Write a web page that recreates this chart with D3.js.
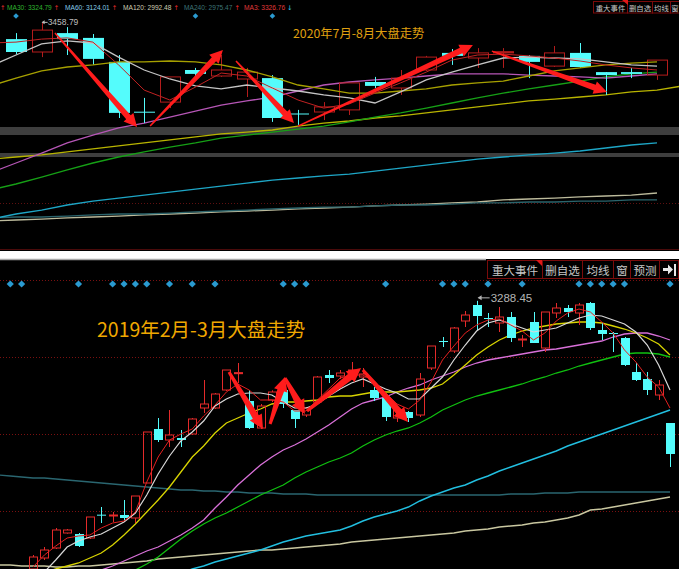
<!DOCTYPE html>
<html><head><meta charset="utf-8">
<script src="https://cdnjs.cloudflare.com/ajax/libs/d3/7.8.5/d3.min.js"></script>
<style>html,body{margin:0;padding:0;background:#fff;}svg{display:block}</style>
</head><body>
<script>
// ---------------- TOP PANEL DATA (2020 Jul-Aug) ----------------
const topOpen  = [3403,3360,3423,3407,3327,3161,3193,3300,3280,3270,3273,3155,3160,3167,3260,3240,3300,3357,3340,3357,3347,3313,3357,3293,3293,3283];
const topHigh  = [3423,3458.79,3443,3420,3350,3207,3277,3307,3350,3307,3283,3167,3193,3257,3277,3300,3347,3370,3373,3373,3350,3380,3390,3293,3307,3333];
const topLow   = [3353,3343,3350,3317,3140,3123,3173,3277,3277,3210,3127,3117,3133,3150,3240,3217,3297,3317,3307,3307,3273,3310,3307,3217,3273,3267];
const topClose = [3360,3433,3403,3337,3157,3158,3277,3287,3300,3293,3140,3152,3177,3257,3247,3273,3343,3347,3357,3361,3327,3357,3310,3283,3287,3333];
// moving averages, first value = day before first candle (index -1)
const topMA3    = [3390,3393,3403,3407,3393,3317,3233,3200,3243,3290,3280,3240,3200,3173,3187,3223,3257,3293,3333,3350,3353,3347,3340,3330,3317,3307,3300];
const topMA5    = [3313,3350,3387,3397,3390,3343,3300,3270,3247,3237,3250,3240,3230,3217,3207,3190,3227,3267,3293,3317,3340,3343,3340,3337,3327,3317,3313];
const topMA10   = [3247,3273,3297,3310,3317,3327,3327,3330,3327,3317,3300,3277,3250,3237,3223,3223,3230,3237,3250,3257,3263,3280,3297,3307,3317,3323,3327];
const topMA20   = [2957,2990,3023,3057,3083,3107,3123,3143,3163,3183,3197,3210,3230,3250,3260,3267,3273,3280,3287,3287,3287,3283,3280,3277,3273,3280,3287];
const topMA30   = [2900,2920,2943,2967,2990,3010,3027,3043,3057,3073,3083,3093,3103,3113,3127,3143,3157,3173,3190,3207,3223,3237,3250,3263,3277,3287,3293];
const topMA40   = [3003,3010,3017,3027,3037,3047,3057,3067,3077,3087,3093,3100,3113,3123,3130,3140,3147,3157,3167,3177,3187,3197,3203,3210,3217,3227,3233,3247];
const topMA60   = [2803,2820,2833,2850,2863,2873,2883,2893,2903,2913,2923,2933,2940,2947,2953,2963,2973,2983,2993,3003,3010,3017,3023,3030,3040,3050,3057];
const topMA120  = [2797,2800,2803,2807,2810,2813,2817,2820,2823,2827,2830,2833,2837,2840,2843,2847,2850,2853,2857,2860,2867,2870,2873,2877,2880,2883,2890];
const topMA240  = [2807,2810,2810,2813,2817,2820,2820,2823,2827,2830,2833,2837,2840,2843,2843,2847,2850,2850,2853,2857,2857,2860,2860,2863,2863,2867,2867];
const topEvents = [0,7,10];
const topArrows = [[1.52,3423,4.72,3110],[5.23,3113,8.07,3367],[8.58,3330,10.84,3123],[11.0,3113,17.82,3383],[18.56,3363,23.05,3227]];
const topTitle = "2020年7月-8月大盘走势";
const topLegend = [["MA30: 3324.79","#2fb52f","↑"],["MA60: 3124.01","#86cbe8","↑"],["MA120: 2992.48","#cfcdb2","↑"],["MA240: 2975.47","#3d7476","↑"],["MA3: 3326.76","#e23a3a","↓"]];

// ---------------- BOTTOM PANEL DATA (2019 Feb-Mar) ----------------
const botOpen  = [2484,2517,2547,2592,2589,2577,2647,2643,2646,2637,2742,2904,2871,2877,2889,2967,2967,3021,3070,2988,2907,2991,3021,2961,2946,2985,3066,3063,3078,3060,3021,2997,2937,2955,2946,3087,3168,3138,3228,3276,3237,3222,3240,3171,3225,3147,3252,3267,3252,3282,3201,3192,3177,3075,3054,3006,2922];
const botHigh  = [2526,2550,2607,2604,2592,2640,2670,2655,2691,2703,2895,2937,2961,2901,2937,3051,3012,3081,3102,3021,2979,3020,3030,2961,2970,3063,3081,3081,3105,3087,3030,3000,2964,2958,3072,3153,3180,3210,3258,3288.45,3252,3270,3255,3186,3255,3255,3282,3276,3282,3285,3222,3195,3180,3102,3075,3051,2922];
const botLow   = [2466,2511,2544,2590,2550,2574,2622,2625,2625,2622,2742,2865,2850,2850,2886,2952,2964,3018,3042,2904,2904,2985,2967,2907,2940,2982,3042,3054,3051,3030,2988,2928,2925,2925,2940,3081,3150,3132,3210,3201,3210,3195,3165,3150,3162,3135,3237,3240,3216,3201,3171,3135,3093,3048,3006,2991,2790];
const botClose = [2520,2541,2601,2601,2553,2640,2645,2646,2637,2703,2895,2871,2886,2871,2934,2979,3009,3081,3073,2907,2973,3015,2979,2934,2967,3060,3057,3072,3081,3069,2997,2940,2961,2937,3054,3153,3165,3207,3246,3243,3234,3240,3177,3174,3162,3255,3267,3255,3276,3207,3189,3189,3096,3051,3021,3036,2829];
const botMA3   = [2490,2526,2553,2577,2583,2586,2607,2622,2628,2655,2745,2820,2871,2889,2904,2943,2976,3015,3039,3021,2991,2991,2985,2958,2958,2991,3024,3057,3066,3066,3048,3012,2979,2964,2991,3045,3111,3153,3192,3216,3231,3234,3216,3198,3171,3192,3228,3252,3264,3255,3225,3192,3141,3105,3060,3030,2967];
const botMA5   = [2451,2475,2511,2550,2568,2580,2589,2607,2625,2652,2706,2769,2823,2868,2895,2928,2973,2994,3009,3012,3012,3006,2985,2967,2967,2979,3003,3024,3042,3054,3039,3024,3012,2994,2994,3027,3060,3111,3156,3198,3222,3231,3219,3207,3195,3201,3207,3222,3237,3246,3243,3231,3219,3195,3156,3096,3021];
const botMA10  = [2466,2475,2484,2493,2502,2517,2532,2556,2586,2619,2655,2691,2730,2775,2820,2853,2892,2922,2937,2952,2964,2979,2985,2985,2988,2991,3000,3003,3003,3009,3015,3015,3015,3018,3021,3027,3039,3066,3096,3126,3150,3171,3186,3198,3207,3213,3219,3222,3225,3225,3222,3213,3204,3192,3177,3159,3126];
const botMA20  = [2391,2403,2418,2433,2448,2466,2481,2493,2508,2523,2538,2550,2568,2586,2607,2631,2667,2700,2736,2766,2796,2820,2841,2856,2874,2895,2916,2940,2964,2982,2991,3000,3015,3027,3036,3051,3063,3075,3090,3102,3111,3117,3123,3129,3135,3141,3144,3150,3156,3162,3168,3180,3189,3192,3192,3183,3171];
const botMA30  = [2292,2313,2334,2355,2376,2397,2418,2439,2460,2481,2499,2520,2547,2574,2598,2619,2637,2652,2670,2688,2706,2721,2736,2757,2775,2790,2805,2817,2832,2853,2871,2886,2898,2907,2922,2940,2961,2976,2991,3003,3012,3021,3030,3039,3051,3060,3072,3081,3093,3102,3111,3120,3129,3132,3132,3129,3120];
const botMA60  = [2334,2346,2355,2367,2376,2388,2397,2409,2418,2430,2439,2451,2460,2472,2484,2493,2505,2514,2523,2532,2541,2553,2565,2574,2583,2589,2595,2601,2613,2628,2640,2649,2658,2670,2688,2703,2715,2727,2736,2751,2763,2778,2790,2802,2814,2826,2838,2853,2865,2877,2889,2901,2913,2925,2937,2949,2961];
// these two start 3 days before the first candle (index -3)
const botMA120 = [2496,2496,2493,2493,2493,2490,2490,2493,2493,2496,2499,2502,2505,2508,2514,2517,2520,2523,2526,2529,2532,2535,2538,2541,2541,2544,2547,2550,2553,2556,2559,2565,2568,2571,2574,2577,2580,2583,2586,2589,2592,2598,2601,2604,2610,2613,2616,2622,2625,2631,2637,2646,2661,2664,2670,2676,2682,2688,2694,2700];
const botMA240 = [2766,2763,2760,2757,2757,2754,2751,2748,2745,2742,2739,2736,2733,2730,2727,2724,2721,2721,2718,2718,2715,2715,2712,2712,2712,2709,2709,2709,2706,2706,2706,2706,2706,2706,2706,2706,2706,2706,2706,2706,2706,2706,2706,2706,2706,2709,2709,2709,2712,2712,2712,2715,2715,2715,2715,2715,2715,2715,2715,2715];
const botEvents = [-2,-1,4,7,8,9,10,12,14,16,22,23,24,31,36,37,38,40,43,48,49,50,51,52,56];
const botArrows = [[17.23,3075,20.22,2904],[20.84,2919,22.15,3060],[22.15,3057,23.9,2949],[24.09,2958,28.84,3087],[29.0,3081,32.97,2925]];
const botTitle = "2019年2月-3月大盘走势";
const topButtons = ["重大事件","删自选","均线","窗"];
const botButtons = ["重大事件","删自选","均线","窗","预测"];

// ---------------- DRAWING ----------------
const W = 679, H = 569;
const svg = d3.select("body").append("svg").attr("width", W).attr("height", H);
const defs = svg.append("defs");
svg.append("rect").attr("width", W).attr("height", H).attr("fill", "#fff");
svg.append("rect").attr("x", 0).attr("y", 0).attr("width", W).attr("height", 251).attr("fill", "#000");
svg.append("rect").attr("x", 0).attr("y", 259).attr("width", W).attr("height", 310).attr("fill", "#000");

defs.append("clipPath").attr("id", "clipT").append("rect").attr("x", 0).attr("y", 13).attr("width", W).attr("height", 236);
defs.append("clipPath").attr("id", "clipB").append("rect").attr("x", 0).attr("y", 280).attr("width", W).attr("height", 289);

const xT = d3.scaleLinear().domain([0, 25]).range([16, 657]);
const yT = d3.scaleLinear().domain([2700, 3500]).range([250, 10]);
const xB = d3.scaleLinear().domain([0, 56]).range([33, 670]);
const yB = d3.scaleLinear().domain([2400, 3300]).range([597, 297]);

function drawLine(g, data, start, x, y, color, width) {
  const line = d3.line().x((d, i) => x(i + start)).y(d => y(d));
  g.append("path").attr("d", line(data)).attr("fill", "none")
    .attr("stroke", color).attr("stroke-width", width || 1);
}
function drawCandles(g, O, Hh, L, C, x, y, w, upCol, downCol) {
  O.forEach((o, i) => {
    const c = C[i], cx = Math.round(x(i)) + 0.5;
    const up = c >= o;
    const top = y(Math.max(o, c)), bot = y(Math.min(o, c));
    const h = Math.max(1, bot - top);
    if (up) {
      g.append("line").attr("x1", cx).attr("x2", cx).attr("y1", y(Hh[i])).attr("y2", top).attr("stroke", upCol);
      g.append("line").attr("x1", cx).attr("x2", cx).attr("y1", top + h).attr("y2", y(L[i])).attr("stroke", upCol);
      g.append("rect").attr("x", cx - w / 2).attr("y", top).attr("width", w).attr("height", h)
        .attr("fill", h < 2.5 ? upCol : "none").attr("stroke", upCol).attr("stroke-width", 1);
    } else {
      g.append("line").attr("x1", cx).attr("x2", cx).attr("y1", y(Hh[i])).attr("y2", y(L[i])).attr("stroke", downCol);
      g.append("rect").attr("x", cx - w / 2 - 0.5).attr("y", top).attr("width", w + 1).attr("height", h).attr("fill", downCol);
    }
  });
}
function arrowPts(x1, y1, x2, y2, w0, w1, Lh, Wh) {
  const dx = x2 - x1, dy = y2 - y1, len = Math.hypot(dx, dy);
  const ux = dx / len, uy = dy / len, nx = -uy, ny = ux;
  const bx = x2 - ux * Lh, by = y2 - uy * Lh;
  return [[x1 + nx * w0 / 2, y1 + ny * w0 / 2], [bx + nx * w1 / 2, by + ny * w1 / 2], [bx + nx * Wh / 2, by + ny * Wh / 2],
    [x2, y2], [bx - nx * Wh / 2, by - ny * Wh / 2], [bx - nx * w1 / 2, by - ny * w1 / 2], [x1 - nx * w0 / 2, y1 - ny * w0 / 2]];
}
function drawArrows(g, arr, x, y, w0, w1, Lh, Wh) {
  arr.forEach(a => {
    const p = arrowPts(x(a[0]), y(a[1]), x(a[2]), y(a[3]), w0, w1, Lh, Wh);
    g.append("polygon").attr("points", p.map(q => q.join(",")).join(" ")).attr("fill", "#ff1c1c");
  });
}
function diamond(g, cx, cy, r, col) {
  g.append("path").attr("d", `M${cx},${cy - r}L${cx + r},${cy}L${cx},${cy + r}L${cx - r},${cy}Z`).attr("fill", col);
}

// ===== TOP PANEL =====
const gT = svg.append("g").attr("clip-path", "url(#clipT)");
gT.append("rect").attr("x", 0).attr("y", 127).attr("width", W).attr("height", 8).attr("fill", "#3e3e3e");
gT.append("rect").attr("x", 0).attr("y", 153).attr("width", W).attr("height", 4).attr("fill", "#3e3e3e");
gT.append("line").attr("x1", 0).attr("x2", W).attr("y1", 203.5).attr("y2", 203.5).attr("stroke", "#5e1010").attr("stroke-dasharray", "1,2");
drawLine(gT, topMA120, -1, xT, yT, "#bdbb9c", 1.3);
drawLine(gT, topMA240, -1, xT, yT, "#2b646c", 1.3);
drawLine(gT, topMA60, -1, xT, yT, "#1ea6c6", 1.4);
drawLine(gT, topMA40, -1, xT, yT, "#b8b400", 1.3);
drawLine(gT, topMA30, -1, xT, yT, "#16a016", 1.3);
drawLine(gT, topMA20, -1, xT, yT, "#b656b6", 1.3);
drawCandles(gT, topOpen, topHigh, topLow, topClose, xT, yT, 20, "#b41c1c", "#54fcfc");
drawLine(gT, topMA10, -1, xT, yT, "#a6a000", 1.3);
drawLine(gT, topMA5, -1, xT, yT, "#c4c4c4", 1.3);
drawLine(gT, topMA3, -1, xT, yT, "#c02222", 1);
drawArrows(gT, topArrows, xT, yT, 1.5, 6, 13, 13);
svg.append("line").attr("x1", 0).attr("x2", W).attr("y1", 249.5).attr("y2", 249.5).attr("stroke", "#4a0a0a");

// high label
{
  const hx = xT(1), hy = yT(3458.79);
  svg.append("line").attr("x1", hx + 1).attr("x2", hx + 6).attr("y1", hy).attr("y2", hy).attr("stroke", "#bdbdbd");
  svg.append("path").attr("d", `M${hx},${hy}l3,-2l0,4z`).attr("fill", "#bdbdbd");
  svg.append("text").attr("x", hx + 6).attr("y", hy + 3).text("3458.79")
    .attr("fill", "#bdbdbd").attr("font-family", "Liberation Sans, Arial").attr("font-size", 8.5);
}
topEvents.forEach(i => diamond(svg, xT(i), 16, 2.8, "#2a9ad0"));

// header legend (laid out left to right from measured widths)
{
  svg.append("text").attr("x", 0).attr("y", 9.5).text("↑").attr("fill", "#e02a2a").attr("font-size", 6.5).attr("font-family", "DejaVu Sans");
  const pos = [7, 65, 123, 184, 244];
  topLegend.forEach((d, k) => {
    const t = svg.append("text").attr("x", pos[k]).attr("y", 9.5).text(d[0]).attr("fill", d[1])
      .attr("font-family", "Liberation Sans, Arial").attr("font-size", 6.6);
    const wdt = t.node().getComputedTextLength();
    svg.append("text").attr("x", pos[k] + wdt + 2).attr("y", 9.5).text(d[2])
      .attr("fill", d[2] === "↓" ? "#3ad8f0" : "#e02a2a").attr("font-family", "DejaVu Sans").attr("font-size", 6.5);
  });
}
// top buttons
{
  const xs = [593, 627, 652, 670, 679];
  topButtons.forEach((t, k) => {
    svg.append("rect").attr("x", xs[k] + 0.5).attr("y", 1.5).attr("width", xs[k + 1] - xs[k] + (k === 3 ? 4 : 0)).attr("height", 11.5)
      .attr("fill", "#000").attr("stroke", "#7a0b0b");
    svg.append("text").attr("x", (xs[k] + xs[k + 1]) / 2 + 0.5).attr("y", 10.5).attr("text-anchor", "middle")
      .text(t).attr("fill", "#c4c4c4").attr("font-family", "Noto Sans CJK SC").attr("font-size", 7.4);
  });
  svg.append("path").attr("d", "M622,0L628,0L628,5Z").attr("fill", "#e01818");
}
svg.append("text").attr("x", 293).attr("y", 38).text(topTitle).attr("fill", "#e0a010")
  .attr("font-family", "Noto Sans CJK SC").attr("font-size", 12.3);

// ===== BOTTOM PANEL =====
svg.append("line").attr("x1", 0).attr("x2", 486).attr("y1", 259.5).attr("y2", 259.5).attr("stroke", "#a8a8a8").attr("stroke-width", 1.5);
const gB = svg.append("g").attr("clip-path", "url(#clipB)");
[280.5, 357.5, 434.5, 511.5].forEach(yy => gB.append("line").attr("x1", 0).attr("x2", W).attr("y1", yy).attr("y2", yy)
  .attr("stroke", "#7a1010").attr("stroke-dasharray", "1,2"));
drawLine(gB, botMA120, -3, xB, yB, "#c9c7a0", 1.4);
drawLine(gB, botMA240, -3, xB, yB, "#2a6670", 1.4);
drawLine(gB, botMA60, 0, xB, yB, "#22bfe0", 1.4);
drawLine(gB, botMA30, 0, xB, yB, "#10c010", 1.3);
drawLine(gB, botMA20, 0, xB, yB, "#d870d8", 1.3);
drawLine(gB, botMA10, 0, xB, yB, "#d8d400", 1.3);
drawCandles(gB, botOpen, botHigh, botLow, botClose, xB, yB, 8, "#e42a2a", "#54fcfc");
drawLine(gB, botMA5, 0, xB, yB, "#d8d8d8", 1.2);
drawLine(gB, botMA3, 0, xB, yB, "#e42020", 1);
drawArrows(gB, botArrows, xB, yB, 3, 7, 14, 14);
botEvents.forEach(i => diamond(svg, xB(i), 284, 3.6, "#2a9ad0"));
{
  const hx = xB(39), hy = yB(3288.45) - 3;
  svg.append("line").attr("x1", hx + 2).attr("x2", hx + 13).attr("y1", hy).attr("y2", hy).attr("stroke", "#b4b4b4");
  svg.append("path").attr("d", `M${hx + 1},${hy}l4,-2.5l0,5z`).attr("fill", "#b4b4b4");
  svg.append("text").attr("x", hx + 14).attr("y", hy + 4).text("3288.45")
    .attr("fill", "#b4b4b4").attr("font-family", "Liberation Sans, Arial").attr("font-size", 11.5);
}
svg.append("text").attr("x", 97).attr("y", 337).text(botTitle).attr("fill", "#f0a800")
  .attr("font-family", "Noto Sans CJK SC").attr("font-size", 19.5);
// bottom buttons
{
  const xs = [487, 542, 582, 613, 630, 659];
  botButtons.forEach((t, k) => {
    svg.append("rect").attr("x", xs[k] + 0.5).attr("y", 260.5).attr("width", xs[k + 1] - xs[k]).attr("height", 18)
      .attr("fill", "#000").attr("stroke", "#7a0b0b");
    svg.append("text").attr("x", (xs[k] + xs[k + 1]) / 2 + 0.5).attr("y", 274.5).attr("text-anchor", "middle")
      .text(t).attr("fill", "#c8c8c8").attr("font-family", "Noto Sans CJK SC").attr("font-size", 11.5);
  });
  svg.append("rect").attr("x", 659.5).attr("y", 260.5).attr("width", 19).attr("height", 18).attr("fill", "#000").attr("stroke", "#7a0b0b");
  svg.append("path").attr("d", "M663,268h5v-3.5l5,5l-5,5v-3.5h-5z").attr("fill", "#e8e8e8");
  svg.append("rect").attr("x", 674).attr("y", 264).attr("width", 2).attr("height", 12).attr("fill", "#e8e8e8");
  svg.append("path").attr("d", "M536,260L542,260L542,266Z").attr("fill", "#e01818");
}
</script>
</body></html>
